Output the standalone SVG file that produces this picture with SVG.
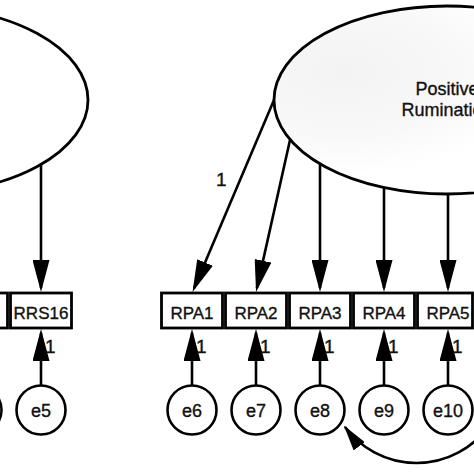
<svg xmlns="http://www.w3.org/2000/svg" width="474" height="474" viewBox="0 0 474 474">
  <style>
    .lat { stroke: #000; stroke-width: 2.8; }
    .box { fill: #fff; stroke: #000; stroke-width: 2.8; }
    .err { fill: #fff; stroke: #000; stroke-width: 2.6; }
    text { font-family: "Liberation Sans", Arial, sans-serif; fill: #111; stroke: #111; stroke-width: 0.35; }
    .lbl { font-size: 17px; text-anchor: middle; }
    .elbl { font-size: 18px; text-anchor: middle; }
    .latlbl { font-size: 18px; text-anchor: middle; }
    .num { font-size: 19px; }
    .path { fill: none; stroke: #000; stroke-width: 2.6; }
    .dn { marker-end: url(#ah); }
    .cov { marker-start: url(#ahs); }
  </style>
  <defs>
    <marker id="ah" markerUnits="userSpaceOnUse" viewBox="0 0 32 17" markerWidth="32" markerHeight="17" refX="28" refY="8.5" orient="auto">
      <path d="M0,0 L32,8.5 L0,17 z" fill="#000"/>
    </marker>
    <marker id="ahs" markerUnits="userSpaceOnUse" viewBox="0 0 26 14" markerWidth="26" markerHeight="14" refX="24" refY="7" orient="auto-start-reverse">
      <path d="M0,0 L26,7 L0,14 z" fill="#000"/>
    </marker>
    <radialGradient id="stip" cx="0.2" cy="0.35" r="0.55">
      <stop offset="0" stop-color="#f3f3f3"/>
      <stop offset="0.6" stop-color="#f8f8f8"/>
      <stop offset="1" stop-color="#ffffff"/>
    </radialGradient>
  </defs>

  <g id="connectors">
    <path class="path dn" d="M41,164 L41,288"/>
    <path class="path dn" d="M274,100 L194.1,288.3"/>
    <path class="path dn" d="M290,140 L256.9,288.1"/>
    <path class="path dn" d="M320,164 L320,288"/>
    <path class="path dn" d="M384,188 L384,288"/>
    <path class="path dn" d="M448,194 L448,288"/>
    <path class="path dn" d="M41,385.5 L41,333"/>
    <path class="path dn" d="M192,385.5 L192,333"/>
    <path class="path dn" d="M256,385.5 L256,333"/>
    <path class="path dn" d="M320,385.5 L320,333"/>
    <path class="path dn" d="M384,385.5 L384,333"/>
    <path class="path dn" d="M448,385.5 L448,333"/>
    <path class="path cov" d="M345,427 A89,89 0 0 0 488,427"/>
    <text class="num" x="216" y="186">1</text>
    <text class="num" x="45" y="353">1</text>
    <text class="num" x="196" y="353">1</text>
    <text class="num" x="260" y="353">1</text>
    <text class="num" x="324" y="353">1</text>
    <text class="num" x="388" y="353">1</text>
    <text class="num" x="452" y="353">1</text>
  </g>

  <g id="latent-left">
    <ellipse class="lat" cx="-85" cy="100" rx="173" ry="94" fill="#fff"/>
  </g>
  <g id="latent-positive-rumination">
    <ellipse class="lat" cx="447" cy="100" rx="173" ry="94" fill="url(#stip)"/>
    <text class="latlbl" x="447" y="95">Positive</text>
    <text class="latlbl" x="447" y="116">Rumination</text>
  </g>

  <g id="box-left-partial"><rect class="box" x="-53.5" y="293" width="61" height="35"/></g>
  <g id="box-rrs16"><rect class="box" x="10.5" y="293" width="61" height="35"/><text class="lbl" x="41" y="318.5">RRS16</text></g>
  <g id="box-rpa1"><rect class="box" x="161.5" y="293" width="61" height="35"/><text class="lbl" x="192" y="318.5">RPA1</text></g>
  <g id="box-rpa2"><rect class="box" x="225.5" y="293" width="61" height="35"/><text class="lbl" x="256" y="318.5">RPA2</text></g>
  <g id="box-rpa3"><rect class="box" x="289.5" y="293" width="61" height="35"/><text class="lbl" x="320" y="318.5">RPA3</text></g>
  <g id="box-rpa4"><rect class="box" x="353.5" y="293" width="61" height="35"/><text class="lbl" x="384" y="318.5">RPA4</text></g>
  <g id="box-rpa5"><rect class="box" x="417.5" y="293" width="55" height="35"/><text class="lbl" x="448" y="318.5">RPA5</text></g>

  <g id="err-e4"><circle class="err" cx="-23" cy="410" r="24.5"/></g>
  <g id="err-e5"><circle class="err" cx="41" cy="410" r="24.5"/><text class="elbl" x="41" y="417">e5</text></g>
  <g id="err-e6"><circle class="err" cx="192" cy="410" r="24.5"/><text class="elbl" x="192" y="417">e6</text></g>
  <g id="err-e7"><circle class="err" cx="256" cy="410" r="24.5"/><text class="elbl" x="256" y="417">e7</text></g>
  <g id="err-e8"><circle class="err" cx="320" cy="410" r="24.5"/><text class="elbl" x="320" y="417">e8</text></g>
  <g id="err-e9"><circle class="err" cx="384" cy="410" r="24.5"/><text class="elbl" x="384" y="417">e9</text></g>
  <g id="err-e10"><circle class="err" cx="448" cy="410" r="24.5"/><text class="elbl" x="448" y="417">e10</text></g>
</svg>
